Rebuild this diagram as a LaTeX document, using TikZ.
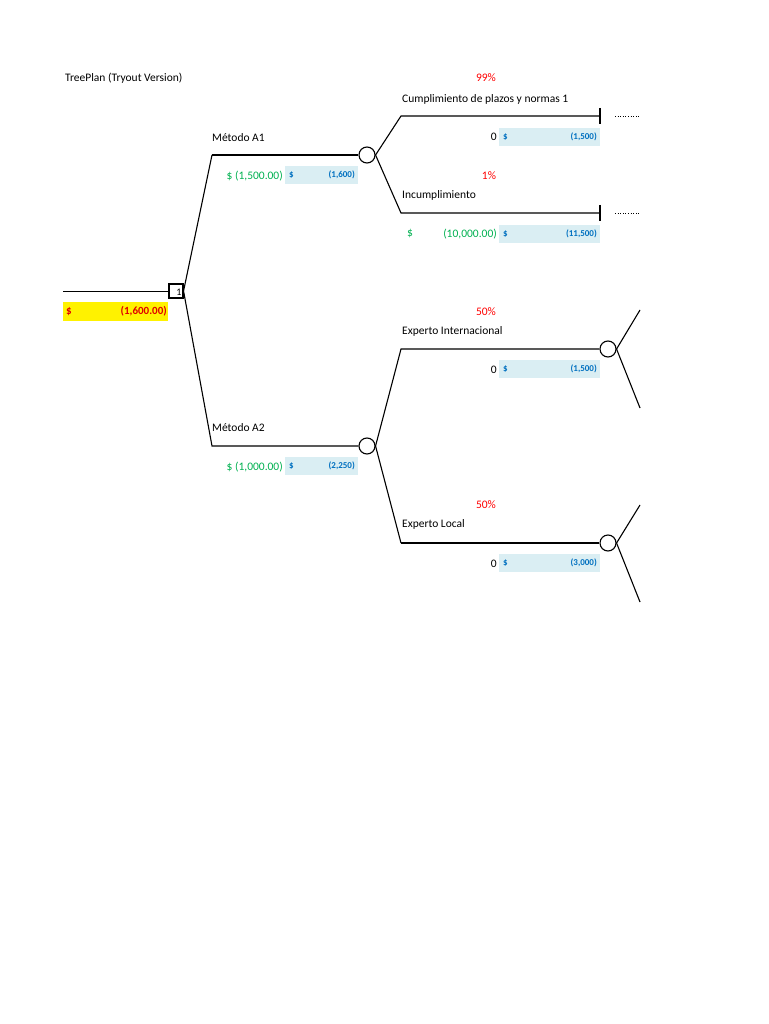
\documentclass[tikz,border=0pt]{standalone}
\usepackage{fontspec}
\setmainfont{Carlito}
\definecolor{bbox}{HTML}{DAEEF3}
\definecolor{bval}{HTML}{0070C0}
\definecolor{gval}{HTML}{00B050}
\definecolor{rval}{HTML}{E00000}
\begin{document}
\begin{tikzpicture}[x=1pt,y=-1pt,
  lbl/.style={font=\fontsize{11.5}{13}\selectfont,inner sep=0pt},
  pct/.style={lbl,text=red},
  grn/.style={lbl,text=gval},
  bx/.style={fill=bbox,minimum height=18pt,inner sep=0pt,anchor=north west},
  bt/.style={font=\fontsize{9}{10}\selectfont\bfseries,text=bval,inner sep=0pt},
  br/.style={line width=1.1pt},
  opt/.style={line width=2pt},
  chance/.style={circle,draw,line width=1.1pt,minimum size=16pt,inner sep=0pt,fill=white},
  tie/.style={line width=0.6pt,dotted}]
\useasboundingbox (0,0) rectangle (768,1024);
\node[lbl,anchor=west] (title) at (65,78) {TreePlan (Tryout Version)};
% root
\coordinate (start) at (63,291);
\node[draw,line width=1.1pt,minimum size=14pt,inner sep=0pt,fill=white] (dec) at (176,291) {};
\node[font=\fontsize{10}{11}\selectfont,inner sep=0pt] (one) at (179,292) {1};
\draw[line width=0.8pt] (start) -- (dec.west);
\fill[yellow] (63,302) rectangle (168,321);
\node[font=\fontsize{11}{12}\selectfont\bfseries,text=rval,anchor=west,inner sep=0pt] (ys) at (66,311.5) {\$};
\node[font=\fontsize{11}{12}\selectfont\bfseries,text=rval,anchor=east,inner sep=0pt] (yv) at (167,311.5) {(1,600.00)};
% A1
\node[chance] (c1) at (367,155) {};
\coordinate (a1) at (212,155);
\draw[br] (dec.east) -- (a1);
\draw[opt] (a1) -- (c1.west);
\node[lbl,anchor=west] (la1) at (212,138) {Método A1};
\node[grn,anchor=east] (ga1) at (283,176) {\$ (1,500.00)};
\node[bx,minimum width=73pt] (ba1) at (285,166) {};
\node[bt,anchor=west] at (289,175) {\$};
\node[bt,anchor=east] at (355,175) {(1,600)};
% Cumplimiento
\coordinate (k1) at (401,116);
\coordinate (e1) at (600,116);
\draw[br] (c1.east) -- (k1) -- (e1);
\draw[br] (600,108) -- (600,124);
\coordinate (d1a) at (615,116); \coordinate (d1b) at (640,116);
\draw[tie] (d1a) -- (d1b);
\node[pct] (p1) at (486,78) {99\%};
\node[lbl,anchor=west] (l1) at (402,99) {Cumplimiento de plazos y normas 1};
\node[lbl,anchor=east] (z1) at (497,137) {0};
\node[bx,minimum width=101pt] (b1) at (499,128) {};
\node[bt,anchor=west] at (503,137) {\$};
\node[bt,anchor=east] at (597,137) {(1,500)};
% Incumplimiento
\coordinate (k2) at (401,213);
\coordinate (e2) at (600,213);
\draw[br] (c1.east) -- (k2) -- (e2);
\draw[br] (600,205) -- (600,221);
\coordinate (d2a) at (615,213); \coordinate (d2b) at (640,213);
\draw[tie] (d2a) -- (d2b);
\node[pct] (p2) at (489,176) {1\%};
\node[lbl,anchor=west] (l2) at (402,195) {Incumplimiento};
\node[grn,anchor=west] (g2a) at (407,234) {\$};
\node[grn,anchor=east] (g2b) at (497,234) {(10,000.00)};
\node[bx,minimum width=101pt] (b2) at (499,225) {};
\node[bt,anchor=west] at (503,234) {\$};
\node[bt,anchor=east] at (597,234) {(11,500)};
% A2
\node[chance] (c2) at (367,446) {};
\coordinate (a2) at (212,446);
\draw[br] (dec.east) -- (a2) -- (c2.west);
\node[lbl,anchor=west] (la2) at (212,428) {Método A2};
\node[grn,anchor=east] (ga2) at (283,467) {\$ (1,000.00)};
\node[bx,minimum width=73pt] (ba2) at (285,457) {};
\node[bt,anchor=west] at (289,466) {\$};
\node[bt,anchor=east] at (355,466) {(2,250)};
% Experto Internacional
\node[chance] (c3) at (608,349) {};
\coordinate (k3) at (401,349);
\draw[br] (c2.east) -- (k3) -- (c3.west);
\coordinate (t3a) at (640,310); \coordinate (t3b) at (640,408);
\draw[br] (c3.east) -- (t3a);
\draw[br] (c3.east) -- (t3b);
\node[pct] (p3) at (486,312) {50\%};
\node[lbl,anchor=west] (l3) at (402,331) {Experto Internacional};
\node[lbl,anchor=east] (z3) at (497,370) {0};
\node[bx,minimum width=101pt] (b3) at (499,360) {};
\node[bt,anchor=west] at (503,369) {\$};
\node[bt,anchor=east] at (597,369) {(1,500)};
% Experto Local
\node[chance] (c4) at (608,543) {};
\coordinate (k4) at (401,543);
\draw[br] (c2.east) -- (k4);
\draw[opt] (k4) -- (c4.west);
\coordinate (t4a) at (640,505); \coordinate (t4b) at (640,602);
\draw[br] (c4.east) -- (t4a);
\draw[br] (c4.east) -- (t4b);
\node[pct] (p4) at (486,505) {50\%};
\node[lbl,anchor=west] (l4) at (402,524) {Experto Local};
\node[lbl,anchor=east] (z4) at (497,564) {0};
\node[bx,minimum width=101pt] (b4) at (499,554) {};
\node[bt,anchor=west] at (503,563) {\$};
\node[bt,anchor=east] at (597,563) {(3,000)};
\end{tikzpicture}
\end{document}
